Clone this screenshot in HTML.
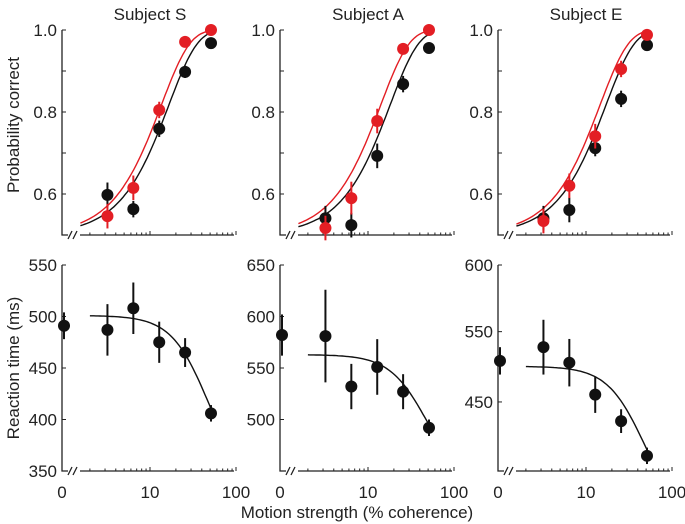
<!DOCTYPE html>
<html><head><meta charset="utf-8"><style>
body{margin:0;background:#fff}
svg{display:block;font-family:"Liberation Sans",Arial,sans-serif}
</style></head><body>
<svg id="chart" width="685" height="524" viewBox="0 0 685 524" xmlns="http://www.w3.org/2000/svg"></svg>
<script>
const subjects = ["Subject S","Subject A","Subject E"];
const coherences = [3.2, 6.4, 12.8, 25.6, 51.2];
const probBlack = [[0.598,0.563,0.759,0.898,0.968],[0.541,0.524,0.693,0.868,0.956],[0.541,0.561,0.712,0.832,0.963]];
const probRed = [[0.546,0.615,0.805,0.971,1.0],[0.517,0.590,0.778,0.954,1.0],[0.534,0.620,0.741,0.905,0.988]];
const probErrBlack = [[0.03,0.02,0.02,0.015,0.008],[0.03,0.03,0.03,0.02,0.01],[0.03,0.03,0.02,0.02,0.01]];
const probErrRed = [[0.03,0.03,0.02,0.01,0.005],[0.03,0.04,0.03,0.01,0.005],[0.03,0.03,0.03,0.02,0.005]];
const weibullAlphaBlack = [16.5,18,17];
const weibullAlphaRed = [13.5,14,14.5];
const weibullBeta = 1.3;
const rtZero = [491,582,495];
const rtZeroErr = [13,20,15];
const rtValues = [[487,508,475,465,406],[581,532,551,527,492],[510,493,458,429,391]];
const rtErr = [[25,25,20,14,8],[45,22,27,17,8],[30,26,20,13,9]];
const rtFitBase = [501,563,489];
const rtFitEnd = [404,490,391];
const probTicks = [0.6,0.7,0.8,0.9,1.0];
const probTickLabels = ["0.6","","0.8","","1.0"];
const rtTickValues = [[550,500,450,400,350],[650,600,550,500],[600,527,450]];
const rtTickLabels = [["550","500","450","400","350"],["650","600","550","500"],["600","550","450"]];
const rtTop = [550,650,600];
const rtPxPerMs = [1.03,1.03,0.913];

const svg = document.getElementById('chart');
const NS = "http://www.w3.org/2000/svg";
function mk(tag, attrs, parent){const e=document.createElementNS(NS,tag);for(const k in attrs)e.setAttribute(k,attrs[k]);(parent||svg).appendChild(e);return e;}
const X0 = [62,280,498];
function xs(p,c){return X0[p]+88+86*(Math.log10(c)-1);}
function yp(v){return 30+(1-v)*410;}
function yr(p,v){return 265+(rtTop[p]-v)*rtPxPerMs[p];}
function weib(c,a){return 1-0.5*Math.exp(-Math.pow(c/a,weibullBeta));}

for(let p=0;p<3;p++){
  const x0=X0[p];
  const g=mk('g',{});
  
  
  const t=mk('text',{x:x0+88,y:20,'text-anchor':'middle','font-size':17,fill:'#222'},g);
  t.textContent=subjects[p];
  
  
  [[30,235,'prob'],[265,471,'rt']].forEach(([top,bot,kind])=>{
    const ax=mk('path',{d:`M${x0} ${top}V${bot}H${x0+6}M${x0+18} ${bot}H${x0+172}`,stroke:'#222','stroke-width':1.3,fill:'none'},g);
    
    
    const br=mk('path',{d:`M${x0+6} ${bot+4}L${x0+10} ${bot-4}M${x0+11} ${bot+4}L${x0+15} ${bot-4}`,stroke:'#222','stroke-width':1.3},g);
    
    
    for(let d=1;d<=2;d++)for(let m=1;m<=9;m++){const cc=d===1?m:m*10;const xx=xs(p,cc);if(xx<x0+18)continue;
      const tk=mk('line',{x1:xx,x2:xx,y1:bot,y2:bot-(m===1?4:2.5),stroke:'#222','stroke-width':1},g);
      
      }
    const tk=mk('line',{x1:xs(p,100),x2:xs(p,100),y1:bot,y2:bot-4,stroke:'#222','stroke-width':1},g);
    
    
  });
  probTicks.forEach((v,i)=>{const y=yp(v);
    const l=mk('line',{x1:x0,x2:x0+4,y1:y,y2:y,stroke:'#222','stroke-width':1},g);
    
    
    if(probTickLabels[i]){const tx=mk('text',{x:x0-5,y:y+6,'text-anchor':'end','font-size':17,fill:'#222'},g);tx.textContent=probTickLabels[i];
      
      }
  });
  rtTickValues[p].forEach((v,i)=>{const y=yr(p,v);
    const l=mk('line',{x1:x0,x2:x0+4,y1:y,y2:y,stroke:'#222','stroke-width':1},g);
    
    
    const tx=mk('text',{x:x0-5,y:y+6,'text-anchor':'end','font-size':17,fill:'#222'},g);tx.textContent=rtTickLabels[p][i];
    
    
  });
  [["0",x0],["10",xs(p,10)],["100",xs(p,100)]].forEach(([s,x])=>{const tx=mk('text',{x:x,y:498,'text-anchor':'middle','font-size':17,fill:'#222'},g);tx.textContent=s;
    
    });
  [[weibullAlphaBlack[p],'#111','black'],[weibullAlphaRed[p],'#e31e24','red']].forEach(([a,col,nm])=>{
    let d='';for(let i=0;i<=60;i++){const lc=Math.log10(1.55)+i*(Math.log10(56)-Math.log10(1.55))/60;const c=Math.pow(10,lc);d+=(i?'L':'M')+xs(p,c).toFixed(1)+' '+yp(weib(c,a)).toFixed(1);}
    const pa=mk('path',{d:d,stroke:col,'stroke-width':1.4,fill:'none'},g);
    
    
  });
  [[probBlack[p],probErrBlack[p],'#111','black'],[probRed[p],probErrRed[p],'#e31e24','red']].forEach(([vals,errs,col,nm])=>{
    vals.forEach((v,i)=>{const x=xs(p,coherences[i]);
      const e=mk('line',{x1:x,x2:x,y1:yp(Math.min(1,v+errs[i])),y2:yp(v-errs[i]),stroke:col,'stroke-width':2},g);
      
      
      const c=mk('circle',{cx:x,cy:yp(v),r:6,fill:col},g);
      
      });
  });
  {const D=rtFitBase[p]-rtFitEnd[p];let d='';
    for(let i=0;i<=60;i++){const lc=Math.log10(2)+i*(Math.log10(51.2)-Math.log10(2))/60;const c=Math.pow(10,lc);const k=1.83/0.55;const xx=k*c/100;const r=Math.tanh(xx)/xx;
      const v=rtFitBase[p]-D*(1-r)/(1-0.517);d+=(i?'L':'M')+xs(p,c).toFixed(1)+' '+yr(p,v).toFixed(1);}
    const pa=mk('path',{d:d,stroke:'#111','stroke-width':1.4,fill:'none'},g);
    
    }
  const pts=[[x0+2,rtZero[p],rtZeroErr[p]]].concat(coherences.map((c,i)=>[xs(p,c),rtValues[p][i],rtErr[p][i]]));
  pts.forEach(([x,v,e])=>{
    const l=mk('line',{x1:x,x2:x,y1:yr(p,v+e),y2:yr(p,v-e),stroke:'#111','stroke-width':2},g);
    
    
    const c=mk('circle',{cx:x,cy:yr(p,v),r:6,fill:'#111'},g);
    
    
  });
}
const yl1=mk('text',{x:0,y:0,transform:'translate(19,125) rotate(-90)','text-anchor':'middle','font-size':17,fill:'#222'});
yl1.textContent='Probability correct';


const yl2=mk('text',{x:0,y:0,transform:'translate(19,368) rotate(-90)','text-anchor':'middle','font-size':17,fill:'#222'});
yl2.textContent='Reaction time (ms)';


const xl=mk('text',{x:357,y:518,'text-anchor':'middle','font-size':17,fill:'#222'});
xl.textContent='Motion strength (% coherence)';


</script>
</body></html>
